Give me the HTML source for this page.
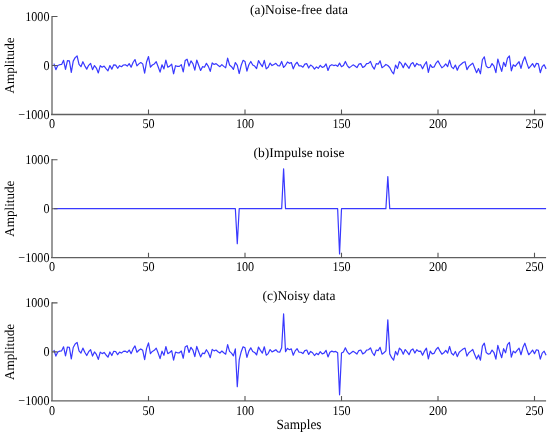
<!DOCTYPE html>
<html><head><meta charset="utf-8"><style>
html,body{margin:0;padding:0;background:#fff;}
svg{display:block;}
text{font-family:"Liberation Serif","Times New Roman",serif;fill:#000;text-rendering:geometricPrecision;}
</style></head><body>
<svg width="550" height="437" viewBox="0 0 550 437">
<polyline fill="none" stroke="#3838ff" stroke-width="1.2" stroke-linejoin="round" points="53.93,63.64 55.86,69.67 57.79,65.55 59.72,64.72 61.65,64.47 63.58,60.35 65.51,69.42 67.44,60.60 69.37,60.89 71.30,72.41 73.23,61.09 75.16,57.61 77.09,55.95 79.02,64.47 80.95,66.68 82.88,61.73 84.81,65.84 86.74,69.13 88.67,65.30 90.60,63.34 92.53,69.67 94.46,65.55 96.39,68.05 98.32,72.95 100.25,65.70 102.18,67.22 104.11,66.09 106.04,68.59 107.97,70.79 109.90,65.55 111.83,69.13 113.76,64.86 115.69,65.16 117.62,68.29 119.55,65.70 121.48,66.68 123.41,65.01 125.34,64.72 127.27,66.09 129.20,63.64 131.13,67.22 133.06,62.51 134.99,59.52 136.92,65.84 138.85,63.88 140.78,62.51 142.71,63.88 144.64,73.24 146.57,61.97 148.50,56.53 150.43,67.22 152.36,65.01 154.29,63.93 156.22,61.73 158.15,66.68 160.08,72.16 162.01,64.77 163.94,68.88 165.87,60.11 167.80,67.22 169.73,66.14 171.66,64.18 173.59,73.78 175.52,65.70 177.45,66.38 179.38,66.38 181.31,64.62 183.24,71.87 185.17,60.60 187.10,59.23 189.03,66.09 190.96,60.89 192.89,63.64 194.82,70.20 196.75,60.06 198.68,65.30 200.61,70.50 202.54,66.68 204.47,67.22 206.40,63.34 208.33,66.38 210.26,71.33 212.19,62.95 214.12,64.47 216.05,63.64 217.98,65.30 219.91,66.68 221.84,64.62 223.77,66.38 225.70,67.75 227.63,58.15 229.56,65.01 231.49,66.68 233.42,69.42 235.35,62.51 237.28,65.30 239.21,73.54 241.14,65.55 243.07,60.35 245.00,61.43 246.93,71.04 248.86,64.72 250.79,61.43 252.72,65.01 254.65,66.09 256.58,68.59 258.51,60.60 260.44,63.93 262.37,66.68 264.30,60.35 266.23,68.83 268.16,67.22 270.09,63.10 272.02,65.55 273.95,64.47 275.88,63.34 277.81,65.55 279.74,65.84 281.67,61.43 283.60,67.46 285.53,65.30 287.46,61.97 289.39,63.34 291.32,62.51 293.25,68.83 295.18,64.47 297.11,62.27 299.04,65.84 300.97,65.84 302.90,67.22 304.83,64.18 306.76,63.64 308.69,68.05 310.62,65.01 312.55,66.38 314.48,69.13 316.41,66.92 318.34,68.29 320.27,65.30 322.20,67.46 324.13,66.68 326.06,63.93 327.99,70.50 329.92,65.84 331.85,64.72 333.78,65.55 335.71,65.01 337.64,66.38 339.57,63.10 341.50,66.68 343.43,65.55 345.36,61.43 347.29,65.55 349.22,67.75 351.15,66.38 353.08,64.86 355.01,66.09 356.94,67.61 358.87,64.18 360.80,63.64 362.73,67.46 364.66,66.38 366.59,63.64 368.52,63.34 370.45,61.43 372.38,66.38 374.31,69.13 376.24,63.64 378.17,64.18 380.10,60.89 382.03,67.75 383.96,66.38 385.89,64.47 387.82,65.55 389.75,67.46 391.68,71.33 393.61,73.78 395.54,65.01 397.47,68.59 399.40,61.73 401.33,63.64 403.26,67.75 405.19,63.10 407.12,65.55 409.05,68.29 410.98,63.93 412.91,62.56 414.84,66.68 416.77,63.34 418.70,65.01 420.63,64.72 422.56,68.83 424.49,64.72 426.42,61.73 428.35,72.41 430.28,64.72 432.21,67.46 434.14,66.92 436.07,63.10 438.00,60.89 439.93,64.47 441.86,67.75 443.79,66.38 445.72,63.93 447.65,66.68 449.58,60.06 451.51,66.92 453.44,68.59 455.37,65.01 457.30,70.20 459.23,65.84 461.16,64.18 463.09,62.56 465.02,61.73 466.95,69.67 468.88,66.38 470.81,64.72 472.74,63.10 474.67,68.05 476.60,72.70 478.53,68.59 480.46,73.78 482.39,59.77 484.32,56.78 486.25,66.14 488.18,67.75 490.11,67.22 492.04,63.64 493.97,66.14 495.90,72.70 497.83,58.98 499.76,65.55 501.69,71.33 503.62,62.27 505.55,66.38 507.48,58.15 509.41,55.99 511.34,70.79 513.27,64.77 515.20,66.38 517.13,63.93 519.06,61.73 520.99,68.34 522.92,61.19 524.85,56.78 526.78,62.85 528.71,68.34 530.64,66.14 532.57,63.64 534.50,67.22 536.43,63.39 538.36,63.93 540.29,72.70 542.22,66.68 544.15,64.77 546.08,68.88"/>
<path d="M52.00 15.90V114.50" stroke="#9a9a9a" stroke-width="2.0"/>
<path d="M51.00 114.50H546.08" stroke="#606060" stroke-width="1.3"/>
<path d="M148.50 114.50v-5M245.00 114.50v-5M341.50 114.50v-5M438.00 114.50v-5M534.50 114.50v-5M52.00 16.50h5.5M52.00 65.50h5.5" stroke="#555555" stroke-width="1.1" fill="none"/>
<text transform="translate(52.00 128.20) scale(1 1.100)" font-size="12.15" text-anchor="middle">0</text>
<text transform="translate(148.50 128.20) scale(1 1.100)" font-size="12.15" text-anchor="middle">50</text>
<text transform="translate(245.00 128.20) scale(1 1.100)" font-size="12.15" text-anchor="middle">100</text>
<text transform="translate(341.50 128.20) scale(1 1.100)" font-size="12.15" text-anchor="middle">150</text>
<text transform="translate(438.00 128.20) scale(1 1.100)" font-size="12.15" text-anchor="middle">200</text>
<text transform="translate(534.50 128.20) scale(1 1.100)" font-size="12.15" text-anchor="middle">250</text>
<text transform="translate(49.50 20.60) scale(1 1.100)" font-size="12.15" text-anchor="end">1000</text>
<text transform="translate(49.50 69.60) scale(1 1.100)" font-size="12.15" text-anchor="end">0</text>
<text transform="translate(49.50 118.60) scale(1 1.100)" font-size="12.15" text-anchor="end">−1000</text>
<text transform="translate(299 13.50) scale(1 1.000)" font-size="13.50" text-anchor="middle">(a)Noise-free data</text>
<text transform="translate(14.0 65.50) rotate(-90) scale(1 1.030)" font-size="13.10" text-anchor="middle">Amplitude</text>
<polyline fill="none" stroke="#3838ff" stroke-width="1.2" stroke-linejoin="round" points="53.93,208.70 55.86,208.70 57.79,208.70 59.72,208.70 61.65,208.70 63.58,208.70 65.51,208.70 67.44,208.70 69.37,208.70 71.30,208.70 73.23,208.70 75.16,208.70 77.09,208.70 79.02,208.70 80.95,208.70 82.88,208.70 84.81,208.70 86.74,208.70 88.67,208.70 90.60,208.70 92.53,208.70 94.46,208.70 96.39,208.70 98.32,208.70 100.25,208.70 102.18,208.70 104.11,208.70 106.04,208.70 107.97,208.70 109.90,208.70 111.83,208.70 113.76,208.70 115.69,208.70 117.62,208.70 119.55,208.70 121.48,208.70 123.41,208.70 125.34,208.70 127.27,208.70 129.20,208.70 131.13,208.70 133.06,208.70 134.99,208.70 136.92,208.70 138.85,208.70 140.78,208.70 142.71,208.70 144.64,208.70 146.57,208.70 148.50,208.70 150.43,208.70 152.36,208.70 154.29,208.70 156.22,208.70 158.15,208.70 160.08,208.70 162.01,208.70 163.94,208.70 165.87,208.70 167.80,208.70 169.73,208.70 171.66,208.70 173.59,208.70 175.52,208.70 177.45,208.70 179.38,208.70 181.31,208.70 183.24,208.70 185.17,208.70 187.10,208.70 189.03,208.70 190.96,208.70 192.89,208.70 194.82,208.70 196.75,208.70 198.68,208.70 200.61,208.70 202.54,208.70 204.47,208.70 206.40,208.70 208.33,208.70 210.26,208.70 212.19,208.70 214.12,208.70 216.05,208.70 217.98,208.70 219.91,208.70 221.84,208.70 223.77,208.70 225.70,208.70 227.63,208.70 229.56,208.70 231.49,208.70 233.42,208.70 235.35,208.70 237.28,243.73 239.21,208.70 241.14,208.70 243.07,208.70 245.00,208.70 246.93,208.70 248.86,208.70 250.79,208.70 252.72,208.70 254.65,208.70 256.58,208.70 258.51,208.70 260.44,208.70 262.37,208.70 264.30,208.70 266.23,208.70 268.16,208.70 270.09,208.70 272.02,208.70 273.95,208.70 275.88,208.70 277.81,208.70 279.74,208.70 281.67,208.70 283.60,168.76 285.53,208.70 287.46,208.70 289.39,208.70 291.32,208.70 293.25,208.70 295.18,208.70 297.11,208.70 299.04,208.70 300.97,208.70 302.90,208.70 304.83,208.70 306.76,208.70 308.69,208.70 310.62,208.70 312.55,208.70 314.48,208.70 316.41,208.70 318.34,208.70 320.27,208.70 322.20,208.70 324.13,208.70 326.06,208.70 327.99,208.70 329.92,208.70 331.85,208.70 333.78,208.70 335.71,208.70 337.64,208.70 339.57,254.02 341.50,208.70 343.43,208.70 345.36,208.70 347.29,208.70 349.22,208.70 351.15,208.70 353.08,208.70 355.01,208.70 356.94,208.70 358.87,208.70 360.80,208.70 362.73,208.70 364.66,208.70 366.59,208.70 368.52,208.70 370.45,208.70 372.38,208.70 374.31,208.70 376.24,208.70 378.17,208.70 380.10,208.70 382.03,208.70 383.96,208.70 385.89,208.70 387.82,176.60 389.75,208.70 391.68,208.70 393.61,208.70 395.54,208.70 397.47,208.70 399.40,208.70 401.33,208.70 403.26,208.70 405.19,208.70 407.12,208.70 409.05,208.70 410.98,208.70 412.91,208.70 414.84,208.70 416.77,208.70 418.70,208.70 420.63,208.70 422.56,208.70 424.49,208.70 426.42,208.70 428.35,208.70 430.28,208.70 432.21,208.70 434.14,208.70 436.07,208.70 438.00,208.70 439.93,208.70 441.86,208.70 443.79,208.70 445.72,208.70 447.65,208.70 449.58,208.70 451.51,208.70 453.44,208.70 455.37,208.70 457.30,208.70 459.23,208.70 461.16,208.70 463.09,208.70 465.02,208.70 466.95,208.70 468.88,208.70 470.81,208.70 472.74,208.70 474.67,208.70 476.60,208.70 478.53,208.70 480.46,208.70 482.39,208.70 484.32,208.70 486.25,208.70 488.18,208.70 490.11,208.70 492.04,208.70 493.97,208.70 495.90,208.70 497.83,208.70 499.76,208.70 501.69,208.70 503.62,208.70 505.55,208.70 507.48,208.70 509.41,208.70 511.34,208.70 513.27,208.70 515.20,208.70 517.13,208.70 519.06,208.70 520.99,208.70 522.92,208.70 524.85,208.70 526.78,208.70 528.71,208.70 530.64,208.70 532.57,208.70 534.50,208.70 536.43,208.70 538.36,208.70 540.29,208.70 542.22,208.70 544.15,208.70 546.08,208.70"/>
<path d="M52.00 159.10V257.70" stroke="#9a9a9a" stroke-width="2.0"/>
<path d="M51.00 257.70H546.08" stroke="#606060" stroke-width="1.3"/>
<path d="M148.50 257.70v-5M245.00 257.70v-5M341.50 257.70v-5M438.00 257.70v-5M534.50 257.70v-5M52.00 159.70h5.5M52.00 208.70h5.5" stroke="#555555" stroke-width="1.1" fill="none"/>
<text transform="translate(52.00 271.40) scale(1 1.100)" font-size="12.15" text-anchor="middle">0</text>
<text transform="translate(148.50 271.40) scale(1 1.100)" font-size="12.15" text-anchor="middle">50</text>
<text transform="translate(245.00 271.40) scale(1 1.100)" font-size="12.15" text-anchor="middle">100</text>
<text transform="translate(341.50 271.40) scale(1 1.100)" font-size="12.15" text-anchor="middle">150</text>
<text transform="translate(438.00 271.40) scale(1 1.100)" font-size="12.15" text-anchor="middle">200</text>
<text transform="translate(534.50 271.40) scale(1 1.100)" font-size="12.15" text-anchor="middle">250</text>
<text transform="translate(49.50 163.80) scale(1 1.100)" font-size="12.15" text-anchor="end">1000</text>
<text transform="translate(49.50 212.80) scale(1 1.100)" font-size="12.15" text-anchor="end">0</text>
<text transform="translate(49.50 261.80) scale(1 1.100)" font-size="12.15" text-anchor="end">−1000</text>
<text transform="translate(299 156.70) scale(1 1.000)" font-size="13.50" text-anchor="middle">(b)Impulse noise</text>
<text transform="translate(14.0 208.70) rotate(-90) scale(1 1.030)" font-size="13.10" text-anchor="middle">Amplitude</text>
<polyline fill="none" stroke="#3838ff" stroke-width="1.2" stroke-linejoin="round" points="53.93,350.04 55.86,356.06 57.79,351.95 59.72,351.12 61.65,350.87 63.58,346.75 65.51,355.82 67.44,347.00 69.37,347.29 71.30,358.81 73.23,347.49 75.16,344.01 77.09,342.34 79.02,350.87 80.95,353.08 82.88,348.13 84.81,352.24 86.74,355.53 88.67,351.70 90.60,349.74 92.53,356.06 94.46,351.95 96.39,354.45 98.32,359.35 100.25,352.10 102.18,353.61 104.11,352.49 106.04,354.99 107.97,357.19 109.90,351.95 111.83,355.53 113.76,351.26 115.69,351.56 117.62,354.69 119.55,352.10 121.48,353.08 123.41,351.41 125.34,351.12 127.27,352.49 129.20,350.04 131.13,353.61 133.06,348.91 134.99,345.92 136.92,352.24 138.85,350.28 140.78,348.91 142.71,350.28 144.64,359.64 146.57,348.37 148.50,342.93 150.43,353.61 152.36,351.41 154.29,350.33 156.22,348.13 158.15,353.08 160.08,358.56 162.01,351.16 163.94,355.28 165.87,346.51 167.80,353.61 169.73,352.54 171.66,350.58 173.59,360.18 175.52,352.10 177.45,352.78 179.38,352.78 181.31,351.02 183.24,358.27 185.17,347.00 187.10,345.63 189.03,352.49 190.96,347.29 192.89,350.04 194.82,356.60 196.75,346.46 198.68,351.70 200.61,356.90 202.54,353.08 204.47,353.61 206.40,349.74 208.33,352.78 210.26,357.73 212.19,349.35 214.12,350.87 216.05,350.04 217.98,351.70 219.91,353.08 221.84,351.02 223.77,352.78 225.70,354.15 227.63,344.55 229.56,351.41 231.49,353.08 233.42,355.82 235.35,348.91 237.28,386.74 239.21,359.94 241.14,351.95 243.07,346.75 245.00,347.83 246.93,357.44 248.86,351.12 250.79,347.83 252.72,351.41 254.65,352.49 256.58,354.99 258.51,347.00 260.44,350.33 262.37,353.08 264.30,346.75 266.23,355.23 268.16,353.61 270.09,349.50 272.02,351.95 273.95,350.87 275.88,349.74 277.81,351.95 279.74,352.24 281.67,347.83 283.60,313.92 285.53,351.70 287.46,348.37 289.39,349.74 291.32,348.91 293.25,355.23 295.18,350.87 297.11,348.67 299.04,352.24 300.97,352.24 302.90,353.61 304.83,350.58 306.76,350.04 308.69,354.45 310.62,351.41 312.55,352.78 314.48,355.53 316.41,353.32 318.34,354.69 320.27,351.70 322.20,353.86 324.13,353.08 326.06,350.33 327.99,356.90 329.92,352.24 331.85,351.12 333.78,351.95 335.71,351.41 337.64,352.78 339.57,394.82 341.50,353.08 343.43,351.95 345.36,347.83 347.29,351.95 349.22,354.15 351.15,352.78 353.08,351.26 355.01,352.49 356.94,354.01 358.87,350.58 360.80,350.04 362.73,353.86 364.66,352.78 366.59,350.04 368.52,349.74 370.45,347.83 372.38,352.78 374.31,355.53 376.24,350.04 378.17,350.58 380.10,347.29 382.03,354.15 383.96,352.78 385.89,350.87 387.82,319.85 389.75,353.86 391.68,357.73 393.61,360.18 395.54,351.41 397.47,354.99 399.40,348.13 401.33,350.04 403.26,354.15 405.19,349.50 407.12,351.95 409.05,354.69 410.98,350.33 412.91,348.96 414.84,353.08 416.77,349.74 418.70,351.41 420.63,351.12 422.56,355.23 424.49,351.12 426.42,348.13 428.35,358.81 430.28,351.12 432.21,353.86 434.14,353.32 436.07,349.50 438.00,347.29 439.93,350.87 441.86,354.15 443.79,352.78 445.72,350.33 447.65,353.08 449.58,346.46 451.51,353.32 453.44,354.99 455.37,351.41 457.30,356.60 459.23,352.24 461.16,350.58 463.09,348.96 465.02,348.13 466.95,356.06 468.88,352.78 470.81,351.12 472.74,349.50 474.67,354.45 476.60,359.10 478.53,354.99 480.46,360.18 482.39,346.17 484.32,343.18 486.25,352.54 488.18,354.15 490.11,353.61 492.04,350.04 493.97,352.54 495.90,359.10 497.83,345.38 499.76,351.95 501.69,357.73 503.62,348.67 505.55,352.78 507.48,344.55 509.41,342.39 511.34,357.19 513.27,351.16 515.20,352.78 517.13,350.33 519.06,348.13 520.99,354.74 522.92,347.59 524.85,343.18 526.78,349.25 528.71,354.74 530.64,352.54 532.57,350.04 534.50,353.61 536.43,349.79 538.36,350.33 540.29,359.10 542.22,353.08 544.15,351.16 546.08,355.28"/>
<path d="M52.00 302.30V400.90" stroke="#9a9a9a" stroke-width="2.0"/>
<path d="M51.00 400.90H546.08" stroke="#606060" stroke-width="1.3"/>
<path d="M148.50 400.90v-5M245.00 400.90v-5M341.50 400.90v-5M438.00 400.90v-5M534.50 400.90v-5M52.00 302.90h5.5M52.00 351.90h5.5" stroke="#555555" stroke-width="1.1" fill="none"/>
<text transform="translate(52.00 414.60) scale(1 1.100)" font-size="12.15" text-anchor="middle">0</text>
<text transform="translate(148.50 414.60) scale(1 1.100)" font-size="12.15" text-anchor="middle">50</text>
<text transform="translate(245.00 414.60) scale(1 1.100)" font-size="12.15" text-anchor="middle">100</text>
<text transform="translate(341.50 414.60) scale(1 1.100)" font-size="12.15" text-anchor="middle">150</text>
<text transform="translate(438.00 414.60) scale(1 1.100)" font-size="12.15" text-anchor="middle">200</text>
<text transform="translate(534.50 414.60) scale(1 1.100)" font-size="12.15" text-anchor="middle">250</text>
<text transform="translate(49.50 307.00) scale(1 1.100)" font-size="12.15" text-anchor="end">1000</text>
<text transform="translate(49.50 356.00) scale(1 1.100)" font-size="12.15" text-anchor="end">0</text>
<text transform="translate(49.50 405.00) scale(1 1.100)" font-size="12.15" text-anchor="end">−1000</text>
<text transform="translate(299 299.90) scale(1 1.000)" font-size="13.50" text-anchor="middle">(c)Noisy data</text>
<text transform="translate(14.0 351.90) rotate(-90) scale(1 1.030)" font-size="13.10" text-anchor="middle">Amplitude</text>
<text transform="translate(299 429.4) scale(1 1.060)" font-size="13.30" text-anchor="middle">Samples</text>
</svg>
</body></html>
